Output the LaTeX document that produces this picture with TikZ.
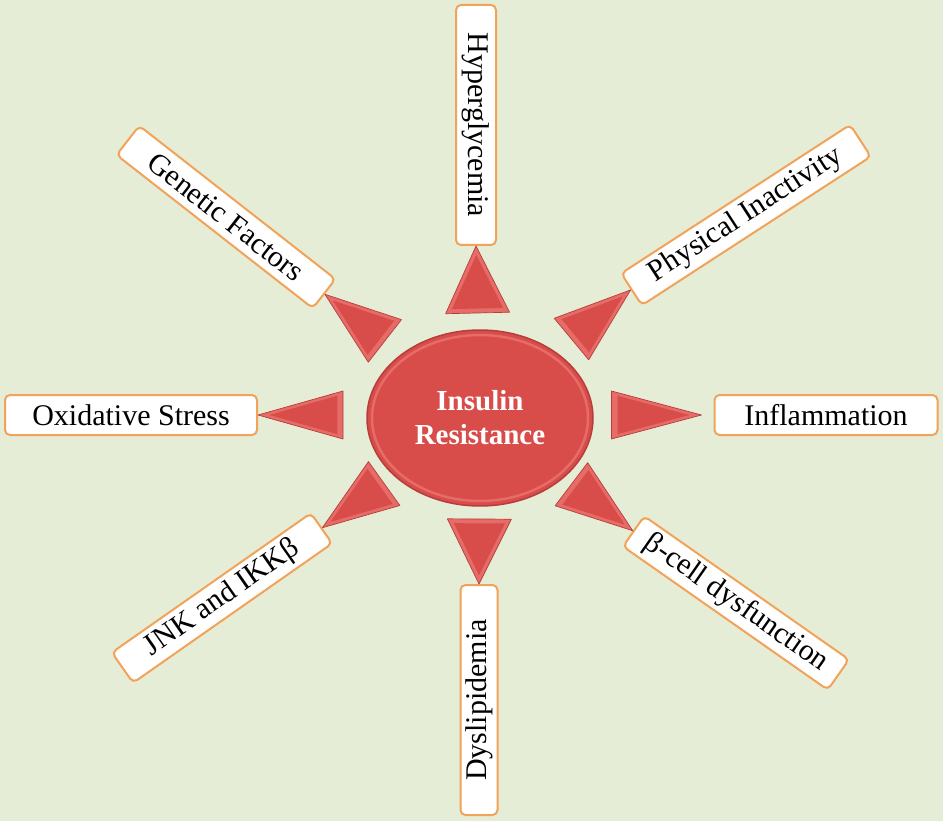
\documentclass[tikz,border=0pt]{standalone}
\usepackage{fontspec}
\setmainfont{Liberation Serif}
\usetikzlibrary{calc,shapes.geometric}
\definecolor{bg}{HTML}{E6EDD6}
\definecolor{boxline}{HTML}{F2A35A}
\definecolor{redmain}{HTML}{D84C4A}
\definecolor{redlight}{HTML}{E66C68}
\definecolor{reddark}{HTML}{B73D3B}
\tikzset{
  factor/.style={draw=boxline, line width=2pt, fill=white, rounded corners=5pt,
    inner sep=0pt, font=\fontsize{30}{36}\selectfont, text=black},
  hub/.style={ellipse, fill=redmain, draw=reddark, line width=1.5pt, inner sep=0pt,
    minimum width=226pt, minimum height=176pt, align=center, text=white,
    font=\bfseries\fontsize{29}{34}\selectfont},
}
\newcommand\mkspike[4]{%
  \coordinate (tA) at ($(#1)!#2pt!(C)$);
  \coordinate (tM) at ($(tA)!#3pt!(C)$);
  \coordinate (tB) at ($(tM)!#4pt!90:(tA)$);
  \coordinate (tD) at ($(tM)!#4pt!-90:(tA)$);
  \coordinate (tG) at ($(tA)!0.6667!(tM)$);
  \fill[redlight] (tA) -- (tB) -- (tD) -- cycle;
  \fill[redmain] ($(tG)!0.8!(tA)$) -- ($(tG)!0.8!(tB)$) -- ($(tG)!0.8!(tD)$) -- cycle;
  \draw[reddark, line width=0.7pt, line join=round] (tA) -- (tB) -- (tD) -- cycle;
}
\begin{document}
\begin{tikzpicture}[x=1pt,y=-1pt]
\fill[bg] (0,0) rectangle (943,821);
\useasboundingbox (0,0) rectangle (943,821);
\coordinate (C) at (480,415);
% hub
\node[hub] (ir) at (480,418) {Insulin\\Resistance};
\draw[redlight, line width=2.5pt] (480,418) ellipse [x radius=108, y radius=83];
% factor boxes
\node[factor, rotate=-90, minimum width=240pt, minimum height=40pt] (hyp) at (476,125) {Hyperglycemia};
\node[factor, rotate=90, minimum width=230pt, minimum height=37pt] (dys) at (479,700) {Dyslipidemia};
\node[factor, minimum width=252pt, minimum height=40pt] (ox) at (131,415) {Oxidative Stress};
\node[factor, minimum width=223pt, minimum height=40pt] (inf) at (826,415) {Inflammation};
\node[factor, rotate=-38, minimum width=249pt, minimum height=37pt] (gen) at (226,217) {Genetic Factors};
\node[factor, rotate=33, minimum width=273pt, minimum height=38pt] (phy) at (746,215) {Physical Inactivity};
\node[factor, rotate=35, minimum width=243pt, minimum height=37pt] (jnk) at (222,598) {JNK and IKKβ};
\node[factor, rotate=-35, minimum width=250pt, minimum height=37pt] (bet) at (736,603) {β-cell dysfunction};
% spikes
\mkspike{hyp.east}{0}{67}{32}
\mkspike{dys.east}{0}{65}{32}
\mkspike{ox.east}{0}{85}{24}
\mkspike{inf.west}{12}{90}{24}
\mkspike{gen.east}{0}{76}{27}
\mkspike{phy.west}{0}{77}{27}
\mkspike{jnk.east}{0}{76}{27}
\mkspike{bet.west}{0}{77}{27}
\end{tikzpicture}
\end{document}
